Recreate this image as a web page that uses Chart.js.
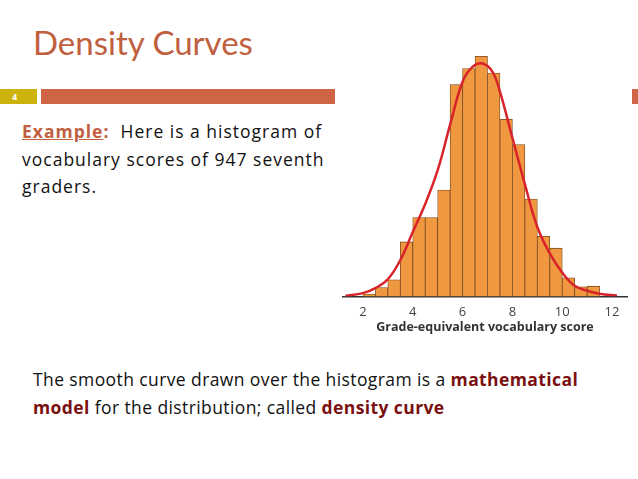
<!DOCTYPE html>
<html><head><meta charset="utf-8">
<script src="https://cdn.jsdelivr.net/npm/chart.js@4"></script>
<style>
body{margin:0;width:638px;height:479px;background:#fff;position:relative;overflow:hidden;font-family:"Open Sans",sans-serif}
.t{position:absolute;white-space:nowrap}
#wrap{position:absolute;left:335px;top:40px;width:300px;height:295px}
</style></head><body>
<div class="t" style="left:33px;top:22px;font-size:33px;color:#c0603f;font-family:Lato,sans-serif">Density Curves</div>
<div class="t" style="left:0;top:89px;width:37px;height:15px;background:#cdb40c;color:#fff;font-size:9px;font-weight:bold;line-height:15px;padding-left:12px;box-sizing:border-box">4</div>
<div class="t" style="left:41px;top:89px;width:294px;height:15px;background:#cf6446"></div>
<div class="t" style="left:632px;top:89px;width:6px;height:15px;background:#cf6446"></div>
<div class="t" style="left:22px;top:118px;font-size:17.5px;letter-spacing:1px;line-height:27.5px;color:#111"><span style="color:#c0603f;font-weight:bold;text-decoration:underline">Example</span><b style="color:#c0603f">:</b>&nbsp; Here is a histogram of<br>vocabulary scores of 947 seventh<br>graders.</div>
<div class="t" style="left:33px;top:365px;font-size:17.5px;letter-spacing:0.4px;line-height:28px;color:#111">The smooth curve drawn over the histogram is a <b style="color:#7a1010">mathematical</b><br><b style="color:#7a1010">model</b> for the distribution; called <b style="color:#7a1010">density curve</b></div>
<div id="wrap"><canvas id="c"></canvas></div>
<script>
const binCenters = [2.25,2.75,3.25,3.75,4.25,4.75,5.25,5.75,6.25,6.75,7.25,7.75,8.25,8.75,9.25,9.75,10.25,10.75,11.25];
const binHeights = [7,27,50,165,239,239,322,641,690,727,676,536,460,295,182,146,56,29,31];
const curveX = [1.3,2,2.5,3,3.5,4,4.5,5,5.5,6,6.4,6.8,7.2,7.5,8,8.5,9,9.5,10,10.5,11,11.5,12.2];
const curveY = [2,10,25,52,110,195,280,382,520,650,695,705,680,620,480,340,210,130,72,32,17,8,2];
const xTicks = [2,4,6,8,10,12];

new Chart(document.getElementById('c'), {
  data: {
    datasets: [
      {type:'line', data: curveX.map((x,i)=>({x, y:curveY[i]})), borderColor:'#d8232a', borderWidth:2.5,
       pointRadius:0, tension:0.4, fill:false, order:0},
      {type:'bar', data: binCenters.map((x,i)=>({x, y:binHeights[i]})), backgroundColor:'#f0983f',
       borderColor:'#7a4a20', borderWidth:0.8, barPercentage:1, categoryPercentage:1, order:1}
    ]
  },
  options: {
    animation:false, responsive:true, maintainAspectRatio:false,
    layout:{padding:{left:8,right:8,top:12}},
    plugins:{legend:{display:false}, tooltip:{enabled:false}},
    scales:{
      x:{type:'linear', offset:false, min:1.2, max:12.6, afterBuildTicks: a => { a.ticks = xTicks.map(v=>({value:v})); },
         grid:{display:false}, border:{color:'#333', width:1.5},
         ticks:{color:'#444', font:{size:13, family:'Open Sans'}, padding:0},
         title:{display:true, text:'Grade-equivalent vocabulary score', color:'#333', font:{size:12.5, weight:'bold', family:'Open Sans'}, padding:0}},
      y:{display:false, min:0, max:740}
    }
  }
});
</script>
</body></html>
